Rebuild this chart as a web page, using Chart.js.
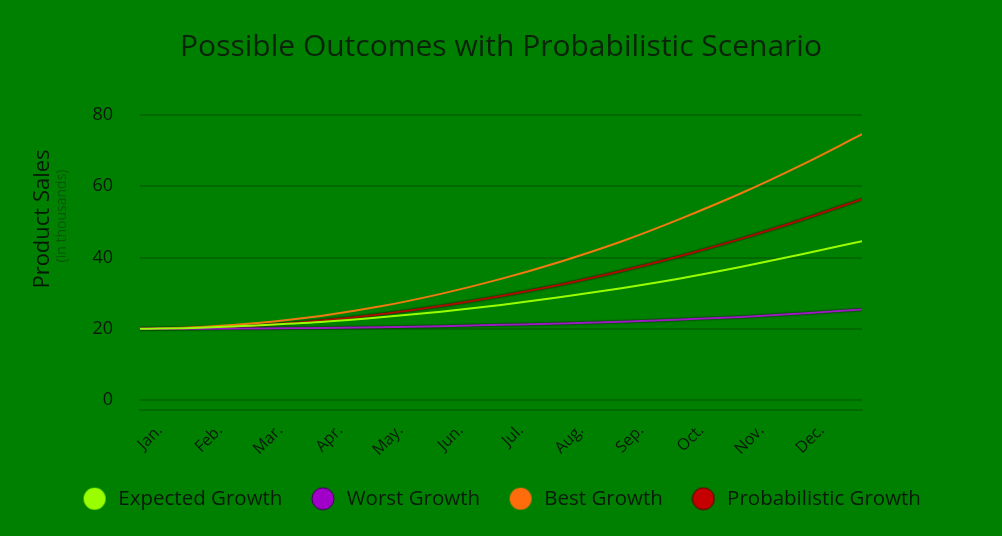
<!DOCTYPE html>
<html>
<head>
<meta charset="utf-8">
<script src="https://cdn.jsdelivr.net/npm/chart.js@4/dist/chart.umd.min.js"></script>
<style>
  html, body { margin: 0; padding: 0; background: #008000; }
  #wrap { width: 1002px; height: 536px; }
</style>
</head>
<body>
<div id="wrap"><canvas id="salesChart"></canvas></div>
<script>
// Months shown under the axis, and monthly steps for the curves (13 points: start + 12 months)
const monthLabels = ['Jan.', 'Feb.', 'Mar.', 'Apr.', 'May.', 'Jun.', 'Jul.', 'Aug.', 'Sep.', 'Oct.', 'Nov.', 'Dec.'];
const steps = [0, 1, 2, 3, 4, 5, 6, 7, 8, 9, 10, 11, 12];

// values (in thousands)
const expectedGrowth = [20, 20.3, 21.0, 21.9, 23.2, 24.8, 26.7, 28.9, 31.4, 34.2, 37.4, 40.9, 44.6];
const worstGrowth = [20, 20.0, 20.1, 20.2, 20.4, 20.7, 21.1, 21.5, 22.0, 22.6, 23.3, 24.3, 25.4];
const bestGrowth = [20, 20.5, 21.7, 23.6, 26.3, 29.8, 34.0, 38.9, 44.5, 51.0, 58.1, 66.0, 74.6];
const probabilisticGrowth = [20, 20.3, 21.0, 22.3, 24.1, 26.4, 29.2, 32.4, 36.2, 40.5, 45.3, 50.6, 56.4];

const yTicks = [0, 20, 40, 60, 80];
const labelOffset = 0.33; // month labels sit a third of a step after each point

Chart.defaults.font.family = "'Open Sans', sans-serif";
Chart.defaults.color = '#0a1a0a';

// legend dots, drawn once as little canvases
const makeDot = (fill, stroke) => {
  const c = document.createElement('canvas');
  c.width = 24; c.height = 24;
  const g = c.getContext('2d');
  g.beginPath();
  g.arc(12, 12, 11, 0, Math.PI * 2);
  g.fillStyle = fill;
  g.fill();
  if (stroke) {
    g.lineWidth = 1;
    g.strokeStyle = stroke;
    g.stroke();
  }
  return c;
};

const toPoints = arr => arr.map((v, i) => ({ x: steps[i], y: v }));

// dark edge on the red and purple lines
const lineShadow = {
  id: 'lineShadow',
  beforeDatasetDraw(chart, args) {
    const ctx = chart.ctx;
    ctx.save();
    if (args.index === 1 || args.index === 3) {
      ctx.shadowColor = 'rgba(0,0,0,0.9)';
      ctx.shadowBlur = 2;
    }
  },
  afterDatasetDraw(chart) {
    chart.ctx.restore();
  }
};

// y axis caption with the smaller "(in thousands)" line
const yCaption = {
  id: 'yCaption',
  afterDraw(chart) {
    const ctx = chart.ctx;
    const area = chart.chartArea;
    ctx.save();
    ctx.translate(area.left - 97, area.top + 104);
    ctx.rotate(-Math.PI / 2);
    ctx.textAlign = 'center';
    ctx.textBaseline = 'middle';
    ctx.fillStyle = '#061806';
    ctx.font = "22px 'Open Sans', sans-serif";
    ctx.fillText('Product Sales', 0, 0);
    ctx.restore();

    ctx.save();
    ctx.translate(area.left - 78, area.top + 101);
    ctx.rotate(-Math.PI / 2);
    ctx.textAlign = 'center';
    ctx.textBaseline = 'middle';
    ctx.fillStyle = '#065806';
    ctx.font = "14px 'Open Sans', sans-serif";
    ctx.fillText('(in thousands)', 0, 0);
    ctx.restore();
  }
};

new Chart(document.getElementById('salesChart'), {
  type: 'line',
  data: {
    datasets: [{
      label: 'Expected Growth',
      data: toPoints(expectedGrowth),
      borderColor: '#99ff00',
      pointStyle: makeDot('#99ff00'),
    }, {
      label: 'Worst Growth',
      data: toPoints(worstGrowth),
      borderColor: '#9a1cc0',
      pointStyle: makeDot('#a000c8', '#3a0050'),
    }, {
      label: 'Best Growth',
      data: toPoints(bestGrowth),
      borderColor: '#f07a10',
      pointStyle: makeDot('#ff6c0c'),
    }, {
      label: 'Probabilistic Growth',
      data: toPoints(probabilisticGrowth),
      borderColor: '#a81000',
      pointStyle: makeDot('#c40000', '#500000'),
    }]
  },
  options: {
    responsive: true,
    maintainAspectRatio: false,
    animation: false,
    layout: { padding: { left: 0, right: 0, top: 0, bottom: 17 } },
    elements: {
      line: { borderWidth: 2, cubicInterpolationMode: 'monotone', fill: false },
      point: { radius: 0, hoverRadius: 0 }
    },
    plugins: {
      title: {
        display: true,
        text: 'Possible Outcomes with Probabilistic Scenario',
        color: '#0a240a',
        font: { size: 30, weight: 'normal' },
        padding: { top: 29, bottom: 50 }
      },
      legend: {
        position: 'bottom',
        labels: {
          usePointStyle: true,
          pointStyleWidth: 27,
          boxHeight: 20,
          padding: 27,
          color: '#0a1a0a',
          font: { size: 20.5 }
        }
      },
      tooltip: { enabled: false }
    },
    scales: {
      x: {
        type: 'linear',
        min: 0,
        max: 12,
        afterBuildTicks: axis => {
          axis.ticks = monthLabels.map((m, i) => ({ value: i + labelOffset }));
        },
        afterFit: axis => { axis.height = 51.5; },
        grid: { display: false },
        border: { display: true, color: 'rgba(0,0,0,0.17)', width: 2 },
        ticks: {
          autoSkip: false,
          maxRotation: 45,
          minRotation: 45,
          padding: 3,
          color: '#0a1a0a',
          font: { size: 16 },
          callback: (value, index) => monthLabels[index]
        }
      },
      y: {
        min: -2.8,
        max: 80,
        afterBuildTicks: axis => {
          axis.ticks = yTicks.map(v => ({ value: v }));
        },
        afterFit: axis => { axis.width = 140; },
        grid: { color: 'rgba(0,0,0,0.17)', lineWidth: 2, drawTicks: false },
        border: { display: false },
        ticks: {
          padding: 27,
          color: '#0a1a0a',
          font: { size: 18 }
        }
      },
      // empty axis on the right, only to keep the plot clear of the right edge
      spacer: {
        position: 'right',
        afterFit: axis => { axis.width = 140; },
        grid: { display: false },
        border: { display: false },
        ticks: { display: false }
      }
    }
  },
  plugins: [lineShadow, yCaption]
});
</script>
</body>
</html>
